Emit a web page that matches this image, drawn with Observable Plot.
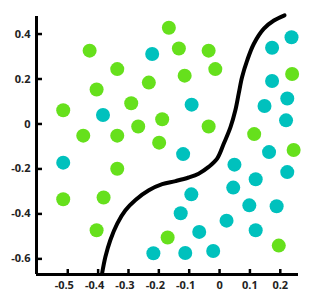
<!DOCTYPE html>
<html>
<head>
<meta charset="utf-8">
<script src="https://cdn.jsdelivr.net/npm/d3@7"></script>
<script src="https://cdn.jsdelivr.net/npm/@observablehq/plot@0.6"></script>
<style>
  html, body { margin: 0; padding: 0; background: #fff; }
  svg text { font-weight: 700; }
</style>
</head>
<body>
<div id="chart"></div>
<script>
const xTicks = [-0.5, -0.4, -0.3, -0.2, -0.1, 0, 0.1, 0.2];
const yTicks = [-0.6, -0.4, -0.2, 0, 0.2, 0.4];

const greenX = [-0.167, -0.428, -0.134, -0.036, -0.337, -0.014, -0.115, -0.233, -0.405, 0.239, -0.515, -0.291, -0.189, -0.268, -0.036, -0.449, -0.337, 0.114, -0.199, 0.244, -0.337, -0.515, -0.382, -0.405, -0.171, 0.195];
const greenY = [0.428, 0.326, 0.336, 0.326, 0.244, 0.244, 0.215, 0.184, 0.153, 0.222, 0.061, 0.092, 0.021, -0.011, -0.011, -0.052, -0.052, -0.045, -0.083, -0.116, -0.199, -0.335, -0.327, -0.473, -0.505, -0.541];

const tealX = [-0.222, 0.237, 0.173, 0.173, 0.223, 0.148, -0.092, -0.384, 0.219, -0.120, 0.163, -0.515, 0.049, 0.223, 0.119, 0.045, -0.093, 0.098, 0.188, -0.128, 0.023, -0.067, 0.119, -0.218, -0.113, -0.021];
const tealY = [0.311, 0.386, 0.339, 0.191, 0.113, 0.080, 0.086, 0.040, 0.016, -0.134, -0.125, -0.172, -0.181, -0.214, -0.246, -0.283, -0.313, -0.362, -0.366, -0.397, -0.430, -0.480, -0.473, -0.575, -0.574, -0.565];

const curveX = [-0.387, -0.376, -0.360, -0.337, -0.310, -0.277, -0.233, -0.189, -0.145, -0.102, -0.069, -0.036, -0.008, 0.014, 0.036, 0.052, 0.063, 0.074, 0.091, 0.113, 0.146, 0.179, 0.214];
const curveY = [-0.665, -0.591, -0.517, -0.443, -0.384, -0.338, -0.295, -0.268, -0.254, -0.238, -0.221, -0.191, -0.154, -0.087, -0.014, 0.061, 0.135, 0.208, 0.283, 0.357, 0.424, 0.460, 0.483];

const xMin = -0.603, xMax = 0.26, yMin = -0.6695, yMax = 0.478;

const green = greenX.map((x, i) => ({x, y: greenY[i]}));
const teal = tealX.map((x, i) => ({x, y: tealY[i]}));
const curve = curveX.map((x, i) => ({x, y: curveY[i]}));

const fmt = d => String(d);
const font = "'Open Sans', sans-serif";

const chart = Plot.plot({
  width: 324,
  height: 302,
  marginLeft: 36,
  marginRight: 26,
  marginTop: 16,
  marginBottom: 28,
  x: {domain: [xMin, xMax], label: null},
  y: {domain: [yMin, yMax], label: null},
  style: {fontFamily: font, fontSize: "11px", fontWeight: "700", color: "#222", background: "#fff"},
  marks: [
    Plot.dot(green, {x: "x", y: "y", r: 7, fill: "#66e01c"}),
    Plot.dot(teal, {x: "x", y: "y", r: 7, fill: "#00c1bd"}),
    Plot.line(curve, {x: "x", y: "y", curve: "catmull-rom", stroke: "#000", strokeWidth: 4}),
    Plot.axisY(yTicks, {tickSize: 6, dx: 6, text: null, label: null, strokeWidth: 2.5, stroke: "#000"}),
    Plot.axisY(yTicks, {tickSize: 0, tickPadding: 6, label: null, tickFormat: fmt, fill: "#222", fontWeight: 700}),
    Plot.axisX(xTicks, {tickSize: 5, dy: -5, text: null, label: null, strokeWidth: 2.5, stroke: "#000"}),
    Plot.axisX(xTicks.filter(d => d < 0), {tickSize: 0, tickPadding: 7, dx: -3.5, label: null, tickFormat: fmt, fill: "#222", fontWeight: 700}),
    Plot.axisX(xTicks.filter(d => d >= 0), {tickSize: 0, tickPadding: 7, label: null, tickFormat: fmt, fill: "#222", fontWeight: 700}),
    Plot.ruleX([xMin], {y1: yMin, y2: yMax, stroke: "#000", strokeWidth: 3}),
    Plot.ruleY([yMin], {x1: xMin, x2: xMax, stroke: "#000", strokeWidth: 3})
  ]
});
document.getElementById("chart").appendChild(chart);
</script>
</body>
</html>
